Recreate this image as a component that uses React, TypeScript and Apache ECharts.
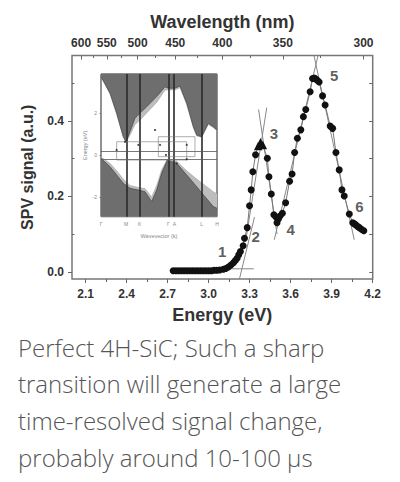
import React, { useEffect, useRef } from "react";
import * as echarts from "echarts";

// ---------- main SPV spectrum ----------
const energy = [
  2.74, 2.76, 2.78, 2.8, 2.82, 2.84, 2.86, 2.88, 2.9, 2.92, 2.94, 2.96, 2.98, 3.0, 3.02, 3.04, 3.06, 3.08,
  3.107, 3.125, 3.144, 3.163, 3.181, 3.195, 3.208, 3.22, 3.232, 3.252, 3.262, 3.282, 3.299, 3.311, 3.323, 3.343,
  3.362, 3.379, 3.396, 3.429, 3.441, 3.458, 3.477, 3.492, 3.5, 3.51, 3.522, 3.539, 3.563, 3.592, 3.61, 3.629,
  3.649, 3.674, 3.693, 3.71, 3.742, 3.76, 3.772, 3.784, 3.796, 3.808, 3.833, 3.852, 3.889, 3.907, 3.931, 3.955,
  3.975, 3.992, 4.029, 4.054, 4.066, 4.078, 4.09, 4.102, 4.118, 4.135,
];
const signal = [
  0.003, 0.003, 0.003, 0.003, 0.003, 0.003, 0.003, 0.003, 0.003, 0.003, 0.003, 0.003, 0.003, 0.003, 0.003, 0.004, 0.004, 0.005,
  0.007, 0.009, 0.013, 0.018, 0.024, 0.03, 0.036, 0.045, 0.054, 0.069, 0.089, 0.117, 0.175, 0.217, 0.265, 0.31,
  0.333, 0.343, 0.336, 0.301, 0.252, 0.206, 0.151, 0.145, 0.13, 0.14, 0.148, 0.155, 0.183, 0.24, 0.259, 0.316,
  0.354, 0.376, 0.411, 0.43, 0.477, 0.512, 0.513, 0.511, 0.507, 0.503, 0.466, 0.442, 0.386, 0.38, 0.316, 0.27,
  0.217, 0.201, 0.153, 0.13, 0.127, 0.124, 0.12, 0.117, 0.113, 0.109,
];
const triangleEnergies = [3.362, 3.379, 3.396];

const tangentLines = [
  [[3.15, 0.008], [3.33, 0.008]],
  [[3.225, -0.019], [3.335, 0.145]],
  [[3.27, 0.08], [3.425, 0.435]],
  [[3.365, 0.43], [3.5, 0.1]],
  [[3.48, 0.085], [3.8, 0.573]],
  [[3.77, 0.573], [4.065, 0.085]],
];

const peakNames = ["1", "2", "3", "4", "5", "6"];
const peakLabelEnergy = [3.098, 3.343, 3.477, 3.6, 3.918, 4.102];
const peakLabelSignal = [0.054, 0.093, 0.367, 0.111, 0.521, 0.173];

const energyMajor = [2.1, 2.4, 2.7, 3.0, 3.3, 3.6, 3.9, 4.2];
const energyMinor = [2.25, 2.55, 2.85, 3.15, 3.45, 3.75, 4.05];
const wavelengthMajor = [600, 550, 500, 450, 400, 350, 300];
const wavelengthMinor = [575, 525, 475, 425, 375, 325];
const signalMajor = [0, 0.2, 0.4];
const signalMinor = [0.1, 0.3, 0.5];
const HC = 1239.84;

// ---------- inset: band structure ----------
const insetK = [0, 0.078, 0.135, 0.192, 0.216, 0.25, 0.293, 0.336, 0.394, 0.48, 0.552, 0.58, 0.638, 0.681, 0.739, 0.796, 0.825, 0.868, 0.925, 0.968, 1];
const cbDark = [3.73, 2.94, 1.99, 0.87, 0.63, 1.11, 1.75, 1.99, 2.3, 2.78, 3.25, 3.18, 3.18, 3.29, 2.46, 1.35, 0.95, 0.87, 1.51, 1.35, 1.19];
const cbLight = [3.73, 2.9, 1.95, 0.85, 0.6, 0.95, 1.45, 1.65, 2.0, 2.5, 3.1, 3.1, 3.1, 3.2, 2.4, 1.3, 0.9, 0.85, 1.45, 1.3, 1.15];
const insetKv = [0, 0.078, 0.135, 0.192, 0.25, 0.322, 0.379, 0.437, 0.48, 0.523, 0.572, 0.609, 0.653, 0.739, 0.825, 0.897, 0.968, 1];
const vbDark = [-0.16, -0.56, -0.95, -1.35, -1.59, -1.67, -1.75, -2.22, -1.67, -0.87, -0.24, -0.32, -0.4, -0.95, -1.51, -1.99, -2.46, -2.54];
const vbLight = [-0.1, -0.4, -0.75, -1.15, -1.45, -1.55, -1.6, -2.0, -1.45, -0.7, -0.2, -0.25, -0.3, -0.75, -1.15, -1.45, -1.75, -1.85];
const symmetryK = [0, 0.216, 0.334, 0.58, 0.632, 0.868, 1];
const symmetryNames = ["Γ", "M", "K", "Γ", "A", "L", "H"];
const insetVerticals = [0.216, 0.334, 0.58, 0.632, 0.868];
const insetHorizontals = [0.16, -0.2];
const insetBoxes = [
  [[0.135, -0.24], [0.739, -0.24], [0.739, 0.63], [0.135, 0.63], [0.135, -0.24]],
  [[0.494, -0.08], [0.81, -0.08], [0.81, 0.87], [0.494, 0.87], [0.494, -0.08]],
];
const insetDotK = [0.207, 0.322, 0.466, 0.56, 0.653, 0.739, 0.135, 0.509, 0.739];
const insetDotE = [0.63, 0.48, 1.19, 0.0, -0.4, -0.2, 0.24, 0.48, 0.48];
const insetYTicks = [-2, 0, 2];

const caption = [
  "Perfect 4H-SiC; Such a sharp",
  "transition will generate a large",
  "time-resolved signal change,",
  "probably around 10-100 µs",
];

const FONT = "'Liberation Sans', Arial, Helvetica, sans-serif";
const TXT = "#333";

export default function App() {
  const ref = useRef<HTMLDivElement>(null);
  useEffect(() => {
    if (!ref.current) return;
    const chart = echarts.init(ref.current, undefined, { renderer: "svg" });

    const mainData = energy.map((e, i) => ({
      value: [e, signal[i]],
      symbol: triangleEnergies.includes(e) ? "triangle" : "circle",
      symbolSize: triangleEnergies.includes(e) ? 8.5 : 7,
    }));

    const axisTickStyle = { color: "#666", width: 1 };

    const option: any = {
      animation: false,
      backgroundColor: "#fff",
      grid: [
        { left: 72, right: 27.3, top: 55.5, bottom: 203, show: true, borderColor: "#777", borderWidth: 1.5, backgroundColor: "transparent" },
        { left: 101, right: 183, top: 74, bottom: 265.3, show: true, borderColor: "#222", borderWidth: 1, backgroundColor: "#fff", z: 3 },
      ],
      xAxis: [
        {
          gridIndex: 0, type: "value", min: 2.0, max: 4.2, position: "bottom",
          axisLine: { show: false, onZero: false },
          axisTick: { show: true, customValues: energyMajor, length: 4, inside: false, lineStyle: axisTickStyle },
          axisLabel: { customValues: energyMajor, formatter: (v: number) => v.toFixed(1), fontSize: 12, fontWeight: "bold", color: TXT, fontFamily: FONT, margin: 9 },
          splitLine: { show: false },
          name: "Energy (eV)", nameLocation: "middle", nameGap: 27,
          nameTextStyle: { fontSize: 18, fontWeight: "bold", color: TXT, fontFamily: FONT },
        },
        {
          gridIndex: 0, type: "value", min: 2.0, max: 4.2, position: "bottom",
          axisLine: { show: false, onZero: false },
          axisTick: { show: true, customValues: energyMinor, length: 3, inside: false, lineStyle: axisTickStyle },
          axisLabel: { show: false }, splitLine: { show: false },
        },
        {
          gridIndex: 0, type: "value", min: 2.0, max: 4.2, position: "top",
          axisLine: { show: false, onZero: false },
          axisTick: { show: true, customValues: wavelengthMajor.map((w) => HC / w), length: 4, inside: true, lineStyle: axisTickStyle },
          axisLabel: { customValues: wavelengthMajor.map((w) => HC / w), formatter: (v: number) => String(Math.round(HC / v)), fontSize: 12, fontWeight: "bold", color: TXT, fontFamily: FONT, margin: 7 },
          splitLine: { show: false },
          name: "Wavelength (nm)", nameLocation: "middle", nameGap: 25,
          nameTextStyle: { fontSize: 18, fontWeight: "bold", color: TXT, fontFamily: FONT },
        },
        {
          gridIndex: 0, type: "value", min: 2.0, max: 4.2, position: "top",
          axisLine: { show: false, onZero: false },
          axisTick: { show: true, customValues: wavelengthMinor.map((w) => HC / w), length: 2.5, inside: true, lineStyle: axisTickStyle },
          axisLabel: { show: false }, splitLine: { show: false },
        },
        {
          gridIndex: 1, type: "value", min: 0, max: 1, position: "bottom",
          axisLine: { show: false, onZero: false },
          axisTick: { show: false },
          axisLabel: {
            customValues: symmetryK,
            formatter: (v: number) => {
              let best = 0;
              symmetryK.forEach((k, i) => { if (Math.abs(k - v) < Math.abs(symmetryK[best] - v)) best = i; });
              return symmetryNames[best];
            },
            fontSize: 5, color: "#888", fontFamily: FONT, margin: 5,
          },
          splitLine: { show: false },
          name: "Wavevector (k)", nameLocation: "middle", nameGap: 16,
          nameTextStyle: { fontSize: 5.5, color: "#888", fontFamily: FONT },
        },
      ],
      yAxis: [
        {
          gridIndex: 0, type: "value", min: -0.019, max: 0.573, position: "left",
          axisLine: { show: false, onZero: false },
          axisTick: { show: true, customValues: signalMajor, length: 4, inside: false, lineStyle: axisTickStyle },
          axisLabel: { customValues: signalMajor, formatter: (v: number) => v.toFixed(1), fontSize: 12, fontWeight: "bold", color: TXT, fontFamily: FONT, margin: 8 },
          splitLine: { show: false },
          name: "SPV signal (a.u.)", nameLocation: "middle", nameGap: 37, nameRotate: 90,
          nameTextStyle: { fontSize: 16, fontWeight: "bold", color: TXT, fontFamily: FONT },
        },
        {
          gridIndex: 0, type: "value", min: -0.019, max: 0.573, position: "left",
          axisLine: { show: false, onZero: false },
          axisTick: { show: true, customValues: signalMinor, length: 2.5, inside: true, lineStyle: axisTickStyle },
          axisLabel: { show: false }, splitLine: { show: false },
        },
        {
          gridIndex: 0, type: "value", min: -0.019, max: 0.573, position: "right",
          axisLine: { show: false, onZero: false },
          axisTick: { show: true, customValues: [...signalMajor, ...signalMinor], length: 3.5, inside: true, lineStyle: axisTickStyle },
          axisLabel: { show: false }, splitLine: { show: false },
        },
        {
          gridIndex: 1, type: "value", min: -2.94, max: 3.857, position: "left",
          axisLine: { show: false, onZero: false },
          axisTick: { show: true, customValues: insetYTicks, length: 2, inside: false, lineStyle: { color: "#999", width: 0.6 } },
          axisLabel: { customValues: insetYTicks, fontSize: 5, color: "#888", fontFamily: FONT, margin: 4 },
          splitLine: { show: false },
          name: "Energy (eV)", nameLocation: "middle", nameGap: 13, nameRotate: 90,
          nameTextStyle: { fontSize: 5.5, color: "#888", fontFamily: FONT },
        },
      ],
      series: [
        // inset bands
        {
          type: "line", xAxisIndex: 4, yAxisIndex: 3, z: 4, symbol: "none",
          data: insetK.map((k, i) => [k, cbLight[i]]),
          lineStyle: { color: "#999", width: 0.5 },
          areaStyle: { color: "#bdbdbd", opacity: 1, origin: "end" },
        },
        {
          type: "line", xAxisIndex: 4, yAxisIndex: 3, z: 4, symbol: "none",
          data: insetK.map((k, i) => [k, cbDark[i]]),
          lineStyle: { color: "#444", width: 0.7 },
          areaStyle: { color: "#6e6e6e", opacity: 1, origin: "end" },
        },
        {
          type: "line", xAxisIndex: 4, yAxisIndex: 3, z: 4, symbol: "none",
          data: insetKv.map((k, i) => [k, vbLight[i]]),
          lineStyle: { color: "#999", width: 0.5 },
          areaStyle: { color: "#bdbdbd", opacity: 1, origin: "start" },
        },
        {
          type: "line", xAxisIndex: 4, yAxisIndex: 3, z: 4, symbol: "none",
          data: insetKv.map((k, i) => [k, vbDark[i]]),
          lineStyle: { color: "#444", width: 0.7 },
          areaStyle: { color: "#6e6e6e", opacity: 1, origin: "start" },
          markLine: {
            silent: true, symbol: "none", label: { show: false },
            data: [
              ...insetVerticals.map((k) => ({ xAxis: k, lineStyle: { color: "#2a2a2a", width: 1.6, type: "solid" } })),
              ...insetHorizontals.map((e) => ({ yAxis: e, lineStyle: { color: "#555", width: 0.8, type: "solid" } })),
            ],
          },
        },
        ...insetBoxes.map((box) => ({
          type: "line", xAxisIndex: 4, yAxisIndex: 3, z: 5, symbol: "none",
          data: box, lineStyle: { color: "#777", width: 0.6 },
        })),
        {
          type: "scatter", xAxisIndex: 4, yAxisIndex: 3, z: 6, symbolSize: 2.2,
          data: insetDotK.map((k, i) => [k, insetDotE[i]]),
          itemStyle: { color: "#222" },
        },
        // tangent lines
        ...tangentLines.map((seg) => ({
          type: "line", xAxisIndex: 0, yAxisIndex: 0, z: 2, symbol: "none",
          data: seg, lineStyle: { color: "#888", width: 1 },
        })),
        // spectrum
        {
          type: "line", xAxisIndex: 0, yAxisIndex: 0, z: 3,
          data: mainData,
          showAllSymbol: true,
          lineStyle: { color: "#777", width: 1 },
          itemStyle: { color: "#111" },
        },
        // peak labels
        {
          type: "scatter", xAxisIndex: 0, yAxisIndex: 0, z: 6, symbolSize: 0,
          data: peakNames.map((n, i) => ({ name: n, value: [peakLabelEnergy[i], peakLabelSignal[i]] })),
          label: { show: true, position: "inside", formatter: (p: any) => p.name, fontSize: 15, fontWeight: "bold", color: TXT, fontFamily: FONT },
        },
      ],
      graphic: caption.map((line, i) => ({
        type: "text", left: 18, top: 335 + i * 36.7, silent: true,
        style: { text: line, fontSize: 24, fontWeight: 300, fill: "#555", fontFamily: "'Open Sans', 'Noto Sans', sans-serif" },
      })),
    };
    chart.setOption(option);
    return () => chart.dispose();
  }, []);

  return (
    <div style={{ position: "absolute", left: 0, top: 0, width: 400, height: 482 }}>
      <div ref={ref} style={{ width: 400, height: 482 }} />
    </div>
  );
}
